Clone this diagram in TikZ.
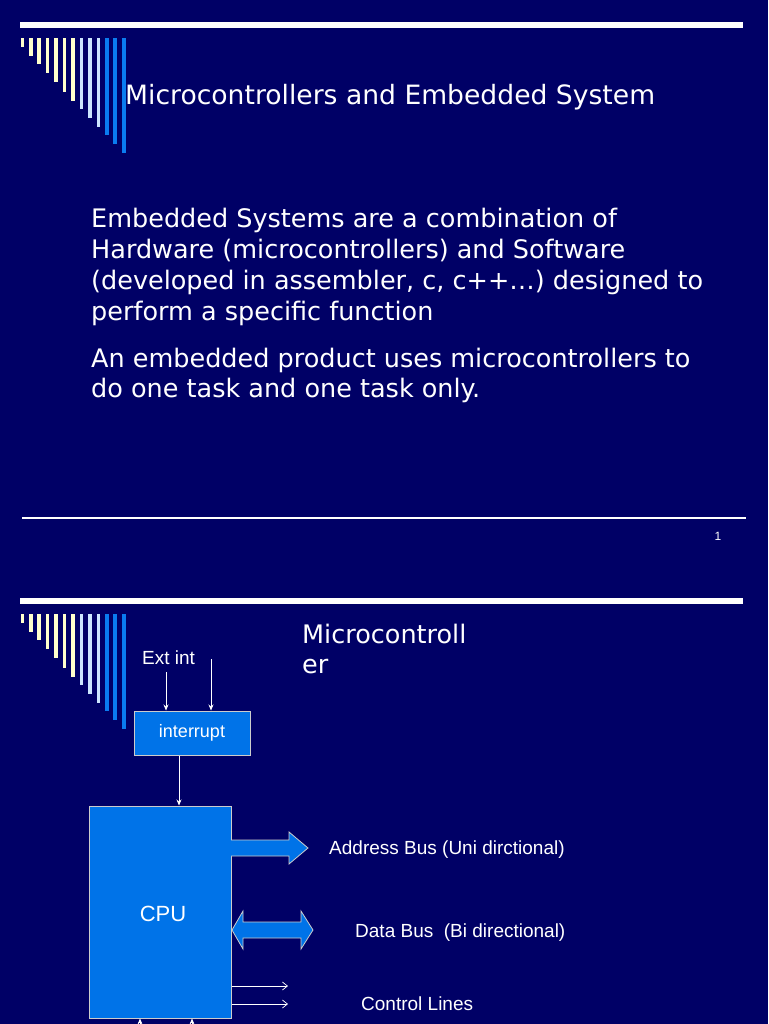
\documentclass[tikz,border=0pt]{standalone}
\usepackage{fontspec}
\setmainfont{DejaVu Sans}
\newfontfamily\arialf{Liberation Sans}
\usetikzlibrary{arrows.meta}
\definecolor{navy}{HTML}{000066}
\definecolor{barY}{HTML}{FFFFCC}
\definecolor{barL}{HTML}{CCE5FF}
\definecolor{barB}{HTML}{0A7CF0}
\definecolor{boxB}{HTML}{0073E8}
\tikzset{
  wline/.style={line width=6pt,white},
  lbl/.style={text=white,anchor=west,inner sep=0pt,font=\arialf\fontsize{19}{22}\selectfont},
  blockbox/.style={draw=gray!40,line width=1pt,fill=boxB,text=white,inner sep=0pt,font=\arialf\fontsize{18}{20}\selectfont},
  thinarr/.style={white,line width=0.7pt,-{Stealth[length=6pt,width=5pt]}},
  openarr/.style={white,line width=0.7pt,-{Straight Barb[length=5pt,width=8pt]}},
  busarr/.style={fill=boxB,draw=gray!40,line width=0.8pt},
  bigtxt/.style={text=white,anchor=base west,inner sep=0pt,align=left}
}
\newcommand{\barsat}[1]{%
  \foreach \i/\b/\c in {0/47/barY,1/56/barY,2/64/barY,3/73/barY,4/82/barY,5/92/barY,6/101/barY,7/109/barL,8/118/barL,9/127/barL,10/135/barB,11/144/barB,12/153/barB}{
    \fill[\c] (20.5+\i*8.45,#1) rectangle ++(3.6,\b-38);
  }}
\begin{document}
\begin{tikzpicture}[x=1pt,y=-1pt]
\fill[navy] (0,0) rectangle (768,1024);
\useasboundingbox (0,0) rectangle (768,1024);
% slide 1
\draw[wline] (20,25) -- (743,25);
\barsat{38}
\node[bigtxt,font=\fontsize{26.6}{30}\selectfont] (t1) at (125,105) {Microcontrollers and Embedded System};
\node[bigtxt,font=\fontsize{25.5}{31}\selectfont] (p1) at (91,320) {Embedded Systems are a combination of\\Hardware (microcontrollers) and Software\\(developed in assembler, c, c++\ldots) designed to\\perform a specific function};
\node[bigtxt,font=\fontsize{25.5}{30}\selectfont] (p2) at (91,397) {An embedded product uses microcontrollers to\\do one task and one task only.};
\draw[white,line width=2pt] (22,518) -- (746,518);
\node[text=white,inner sep=0pt,font=\arialf\fontsize{12}{14}\selectfont] (pg) at (718,536) {1};
% slide 2
\draw[wline] (20,601) -- (743,601);
\barsat{614}
\node[bigtxt,font=\fontsize{25.5}{30}\selectfont] (t2) at (302,673) {Microcontroll\\er};
\node[lbl] (ext) at (142,658) {Ext int};
\node[blockbox,minimum width=116pt,minimum height=44pt] (intr) at (192,733) {interrupt};
\coordinate (a1) at (166,672);
\coordinate (a2) at (211,659);
\draw[thinarr] (a1) -- (a1 |- intr.north);
\draw[thinarr] (a2) -- (a2 |- intr.north);
\node[blockbox,minimum width=142pt,minimum height=212pt] (cpu) at (160,912) {};
\node[text=white,inner sep=0pt,font=\arialf\fontsize{22}{24}\selectfont] (cpul) at (163,914) {CPU};
\draw[thinarr] (intr.south -| 179,0) -- (cpu.north -| 179,0);
\draw[busarr] (231,840) -- (289,840) -- (289,832) -- (308,848) -- (289,864) -- (289,856) -- (231,856);
\draw[busarr] (232,930) -- (243,911) -- (243,922) -- (301,922) -- (301,911) -- (313,930) -- (301,949) -- (301,938) -- (243,938) -- (243,949) -- cycle;
\node[lbl] (abl) at (329,850) {Address Bus (Uni dirctional)};
\node[lbl] (dbl) at (355,933) {Data Bus\ \ (Bi directional)};
\node[lbl] (cll) at (361,1004) {Control Lines};
\coordinate (c1) at (288,986);
\coordinate (c2) at (288,1004);
\draw[openarr] (cpu.east |- c1) -- (c1);
\draw[openarr] (cpu.east |- c2) -- (c2);
\coordinate (b1) at (140,1030);
\coordinate (b2) at (192,1030);
\draw[thinarr] (b1) -- (b1 |- cpu.south);
\draw[thinarr] (b2) -- (b2 |- cpu.south);
\end{tikzpicture}
\end{document}
